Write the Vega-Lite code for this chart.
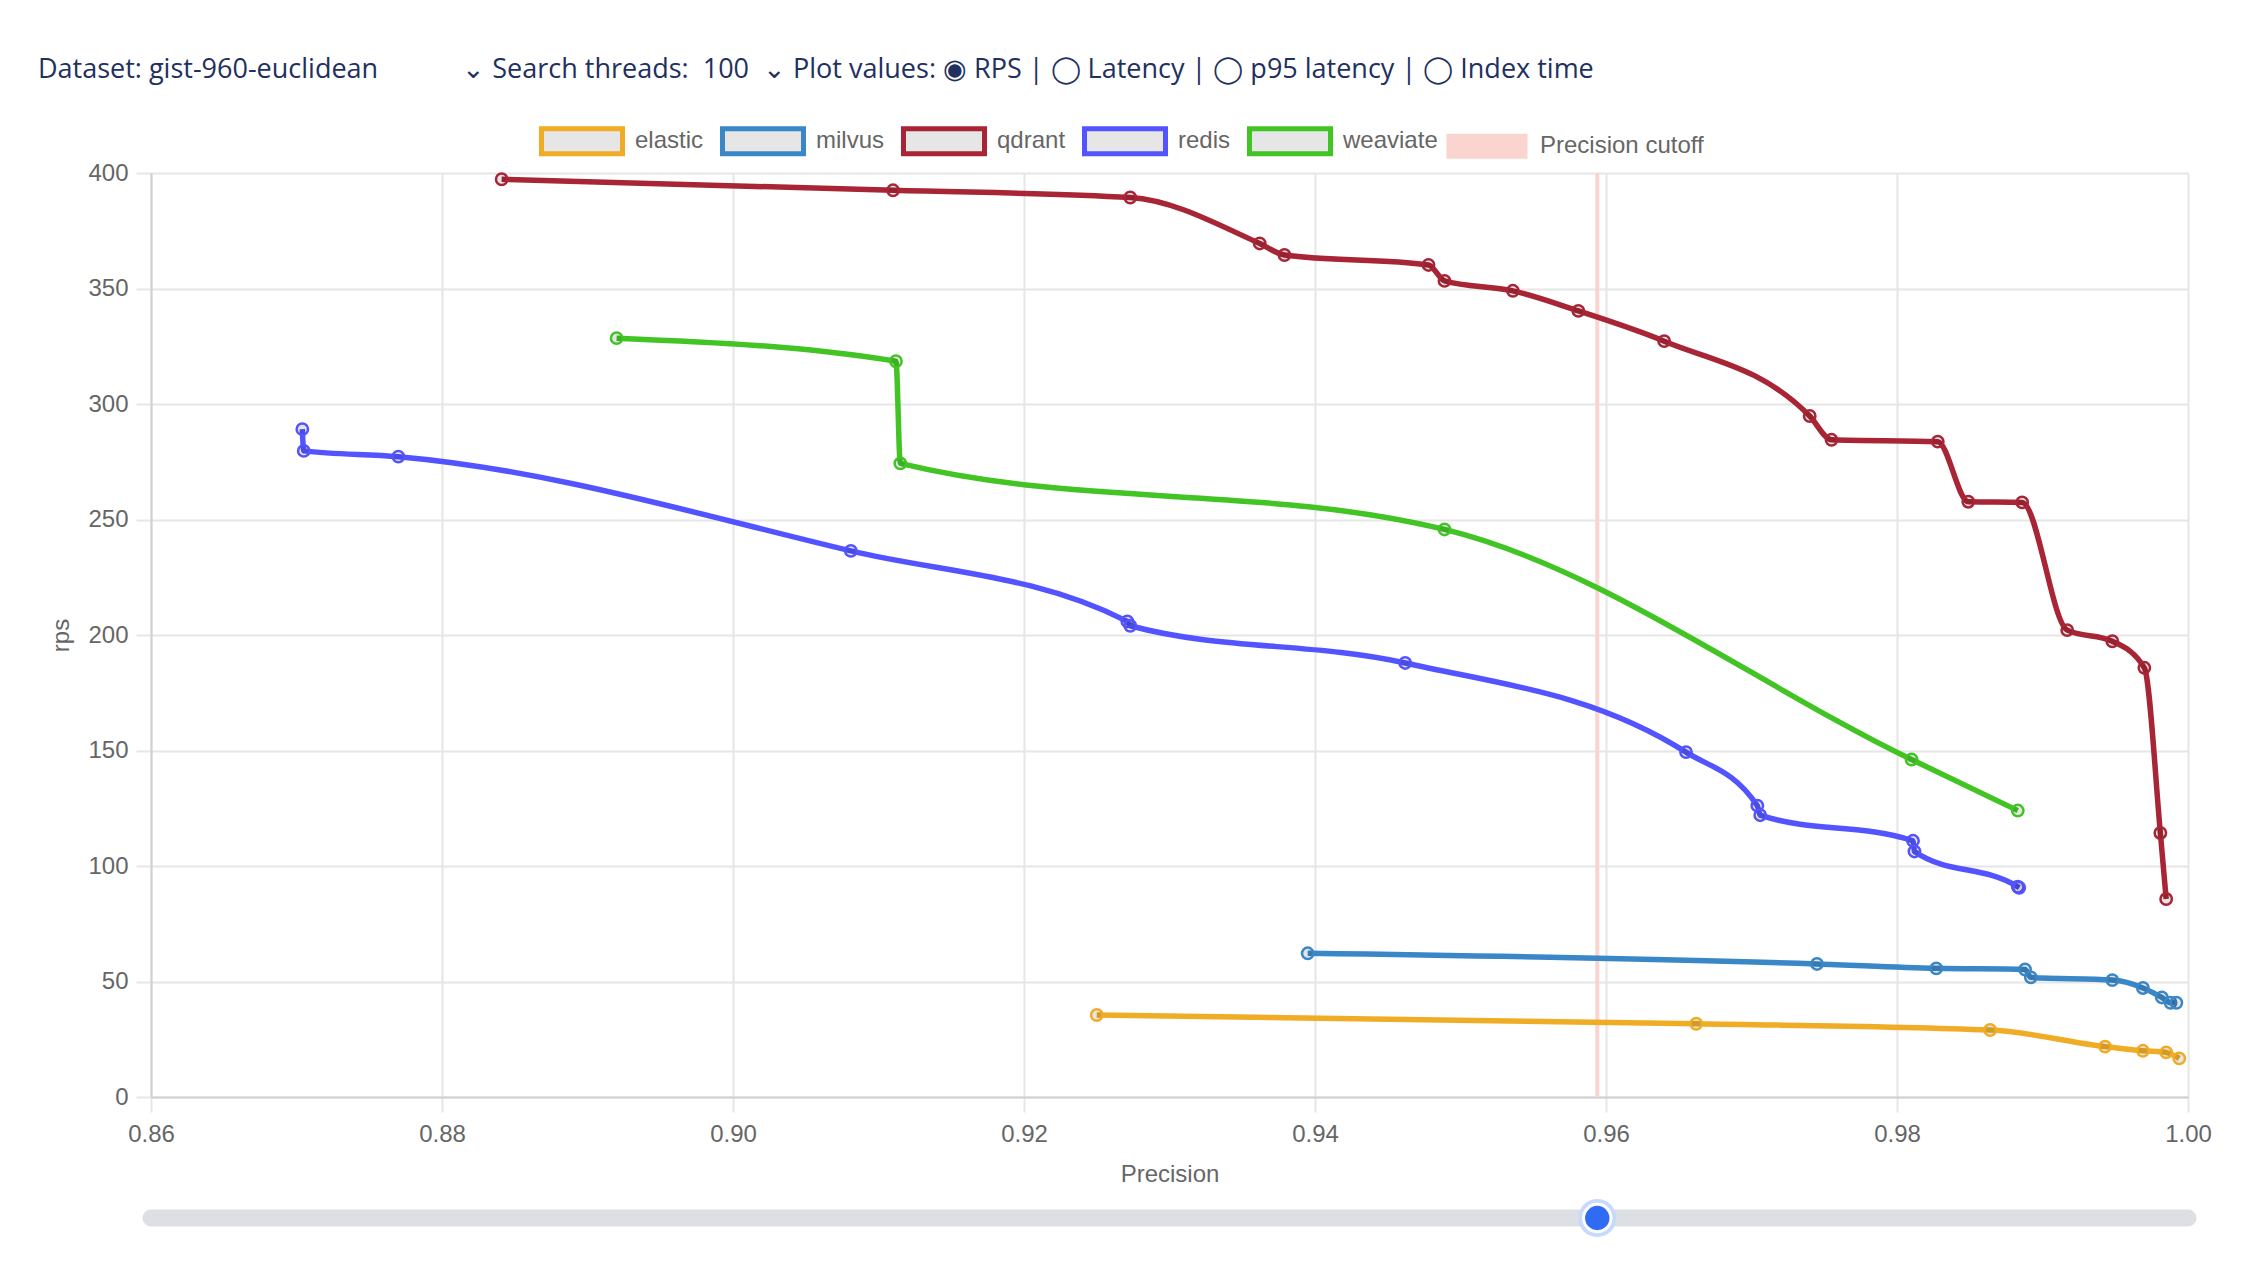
{
  "$schema": "https://vega.github.io/schema/vega-lite/v6.json",
  "description": "RPS against precision per engine, gist-960-euclidean, 100 search threads",
  "background": "white",
  "padding": {"left": 37, "top": 56, "right": 20, "bottom": 10},
  "title": {
    "text": "Dataset: gist-960-euclidean\u00a0\u00a0\u00a0\u00a0\u00a0\u00a0\u00a0\u00a0\u00a0\u00a0\u00a0\u00a0⌄ Search threads:\u00a0\u00a0100\u00a0\u00a0⌄ Plot values: ◉ RPS | ◯ Latency | ◯ p95 latency | ◯ Index time",
    "font": "Open Sans",
    "fontSize": 27,
    "fontWeight": "normal",
    "color": "#22305f",
    "anchor": "start",
    "frame": "bounds",
    "offset": 45,
    "dx": -12
  },
  "datasets": {
    "runs": [
      {"engine": "elastic", "precision": 0.9250, "rps": 35.5},
      {"engine": "elastic", "precision": 0.9662, "rps": 31.7},
      {"engine": "elastic", "precision": 0.9864, "rps": 29.0},
      {"engine": "elastic", "precision": 0.9943, "rps": 21.8},
      {"engine": "elastic", "precision": 0.9969, "rps": 20.0},
      {"engine": "elastic", "precision": 0.9985, "rps": 19.3},
      {"engine": "elastic", "precision": 0.9994, "rps": 16.7},
      {"engine": "milvus", "precision": 0.9395, "rps": 62.2},
      {"engine": "milvus", "precision": 0.9745, "rps": 57.6},
      {"engine": "milvus", "precision": 0.9827, "rps": 55.7},
      {"engine": "milvus", "precision": 0.9888, "rps": 55.2},
      {"engine": "milvus", "precision": 0.9892, "rps": 51.8},
      {"engine": "milvus", "precision": 0.9948, "rps": 50.6},
      {"engine": "milvus", "precision": 0.9969, "rps": 47.2},
      {"engine": "milvus", "precision": 0.9982, "rps": 43.1},
      {"engine": "milvus", "precision": 0.9988, "rps": 40.8},
      {"engine": "milvus", "precision": 0.9992, "rps": 40.8},
      {"engine": "qdrant", "precision": 0.8841, "rps": 397.3},
      {"engine": "qdrant", "precision": 0.9110, "rps": 392.5},
      {"engine": "qdrant", "precision": 0.9273, "rps": 389.4},
      {"engine": "qdrant", "precision": 0.9362, "rps": 369.5},
      {"engine": "qdrant", "precision": 0.9379, "rps": 364.5},
      {"engine": "qdrant", "precision": 0.9478, "rps": 360.2},
      {"engine": "qdrant", "precision": 0.9489, "rps": 353.3},
      {"engine": "qdrant", "precision": 0.9536, "rps": 349.0},
      {"engine": "qdrant", "precision": 0.9581, "rps": 340.3},
      {"engine": "qdrant", "precision": 0.9640, "rps": 327.2},
      {"engine": "qdrant", "precision": 0.9740, "rps": 294.8},
      {"engine": "qdrant", "precision": 0.9755, "rps": 284.5},
      {"engine": "qdrant", "precision": 0.9828, "rps": 283.7},
      {"engine": "qdrant", "precision": 0.9849, "rps": 257.7},
      {"engine": "qdrant", "precision": 0.9886, "rps": 257.4},
      {"engine": "qdrant", "precision": 0.9917, "rps": 202.1},
      {"engine": "qdrant", "precision": 0.9948, "rps": 197.3},
      {"engine": "qdrant", "precision": 0.9970, "rps": 185.8},
      {"engine": "qdrant", "precision": 0.9981, "rps": 114.3},
      {"engine": "qdrant", "precision": 0.9985, "rps": 85.7},
      {"engine": "redis", "precision": 0.8704, "rps": 289.1},
      {"engine": "redis", "precision": 0.8705, "rps": 279.7},
      {"engine": "redis", "precision": 0.8770, "rps": 277.2},
      {"engine": "redis", "precision": 0.9081, "rps": 236.4},
      {"engine": "redis", "precision": 0.9271, "rps": 205.9},
      {"engine": "redis", "precision": 0.9273, "rps": 204.0},
      {"engine": "redis", "precision": 0.9462, "rps": 187.9},
      {"engine": "redis", "precision": 0.9655, "rps": 149.3},
      {"engine": "redis", "precision": 0.9704, "rps": 126.1},
      {"engine": "redis", "precision": 0.9706, "rps": 122.0},
      {"engine": "redis", "precision": 0.9811, "rps": 110.9},
      {"engine": "redis", "precision": 0.9812, "rps": 106.3},
      {"engine": "redis", "precision": 0.9883, "rps": 91.0},
      {"engine": "redis", "precision": 0.9884, "rps": 90.6},
      {"engine": "weaviate", "precision": 0.8920, "rps": 328.5},
      {"engine": "weaviate", "precision": 0.9112, "rps": 318.5},
      {"engine": "weaviate", "precision": 0.9115, "rps": 274.3},
      {"engine": "weaviate", "precision": 0.9489, "rps": 245.7},
      {"engine": "weaviate", "precision": 0.9810, "rps": 146.1},
      {"engine": "weaviate", "precision": 0.9883, "rps": 124.0}
    ],
    "cutoff": [
      {"engine": "Precision cutoff", "precision": 0.9594}
    ],
    "track": [
      {"start": 0.86, "end": 1.0}
    ]
  },
  "vconcat": [
    {
      "width": 2037,
      "height": 924,
      "encoding": {
        "x": {
          "field": "precision",
          "type": "quantitative",
          "title": "Precision",
          "scale": {"domain": [0.86, 1.0], "nice": false, "zero": false},
          "axis": {
            "values": [0.86, 0.88, 0.9, 0.92, 0.94, 0.96, 0.98, 1.0],
            "format": ".2f",
            "labelFlush": false,
            "labelOverlap": false,
            "labelPadding": 10,
            "titlePadding": 16
          }
        },
        "stroke": {
          "field": "engine",
          "type": "nominal",
          "scale": {
            "domain": ["elastic", "milvus", "qdrant", "redis", "weaviate", "Precision cutoff"],
            "range": ["#F0AC24", "#3A87C8", "#A82535", "#5353FF", "#42C424", "#FAD4CE"]
          },
          "legend": {
            "title": null,
            "orient": "none",
            "legendX": 419,
            "legendY": -44,
            "direction": "horizontal",
            "columns": 6,
            "padding": 0,
            "symbolType": "M-1,-0.31H1V0.31H-1Z",
            "symbolSize": 6561,
            "symbolStrokeWidth": 5,
            "labelFont": "Liberation Sans",
            "labelFontSize": 24,
            "labelColor": "#666666",
            "labelOffset": 41,
            "labelLimit": 400,
            "columnPadding": 8,
            "encode": {
              "symbols": {
                "update": {
                  "fill": {"signal": "datum.value === 'Precision cutoff' ? '#FAD4CE' : '#E6E6E6'"},
                  "strokeWidth": {"signal": "datum.value === 'Precision cutoff' ? 0 : 5"},
                  "opacity": {"value": 1}
                }
              }
            }
          }
        }
      },
      "layer": [
        {
          "data": {"name": "cutoff"},
          "mark": {"type": "rule", "strokeWidth": 4}
        },
        {
          "data": {"name": "runs"},
          "mark": {"type": "line", "interpolate": "monotone", "strokeWidth": 5.5},
          "encoding": {
            "y": {
              "field": "rps",
              "type": "quantitative",
              "title": "rps",
              "scale": {"domain": [0, 400], "nice": false},
              "axis": {
                "values": [0, 50, 100, 150, 200, 250, 300, 350, 400],
                "labelPadding": 8,
                "titlePadding": 14
              }
            }
          }
        },
        {
          "data": {"name": "runs"},
          "mark": {"type": "circle", "size": 130, "fill": "#000000", "fillOpacity": 0.1, "strokeWidth": 2.5, "opacity": 1},
          "encoding": {
            "y": {"field": "rps", "type": "quantitative"}
          }
        }
      ]
    },
    {
      "width": 2037,
      "height": 44,
      "layer": [
        {
          "data": {"name": "track"},
          "mark": {"type": "rule", "strokeWidth": 17, "strokeCap": "round", "color": "#DCDFE4"},
          "encoding": {
            "x": {"field": "start", "type": "quantitative", "scale": {"domain": [0.86, 1.0], "nice": false, "zero": false}, "axis": null},
            "x2": {"field": "end"},
            "y": {"datum": 0, "type": "quantitative", "scale": {"domain": [-1, 1]}, "axis": null}
          }
        },
        {
          "data": {"name": "cutoff"},
          "mark": {"type": "circle", "size": 1450, "color": "#C6DAFC", "opacity": 1},
          "encoding": {
            "x": {"field": "precision", "type": "quantitative", "scale": {"domain": [0.86, 1.0], "nice": false, "zero": false}, "axis": null},
            "y": {"datum": 0, "type": "quantitative", "scale": {"domain": [-1, 1]}, "axis": null}
          }
        },
        {
          "data": {"name": "cutoff"},
          "mark": {"type": "circle", "size": 750, "color": "#2F6BF5", "stroke": "white", "strokeWidth": 3, "opacity": 1},
          "encoding": {
            "x": {"field": "precision", "type": "quantitative", "scale": {"domain": [0.86, 1.0], "nice": false, "zero": false}, "axis": null},
            "y": {"datum": 0, "type": "quantitative", "scale": {"domain": [-1, 1]}, "axis": null}
          }
        }
      ]
    }
  ],
  "spacing": 10,
  "resolve": {"scale": {"x": "independent", "y": "independent"}},
  "config": {
    "view": {"stroke": null},
    "font": "Liberation Sans",
    "axis": {
      "labelFont": "Liberation Sans",
      "labelFontSize": 24,
      "labelColor": "#666666",
      "titleFont": "Liberation Sans",
      "titleFontSize": 24,
      "titleFontWeight": "normal",
      "titleColor": "#666666",
      "gridColor": "#E6E6E6",
      "gridWidth": 2,
      "tickColor": "#E6E6E6",
      "tickWidth": 2,
      "tickSize": 15,
      "domainColor": "#D0D0D0",
      "domainWidth": 2
    }
  }
}
